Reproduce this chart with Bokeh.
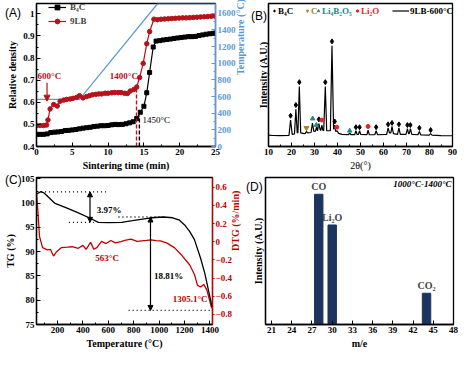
import math
from bokeh.plotting import figure
from bokeh.layouts import row, column
from bokeh.models import (Range1d, LinearAxis, Label, Arrow, NormalHead,
                          Legend, LegendItem, FixedTicker, Div)
from bokeh.embed import file_html
from bokeh.resources import INLINE

SERIF = "Liberation Serif"
SANS = "Liberation Sans"
RED = "#b5121b"
DRED = "#c00000"
BLUE = "#5b9bd5"
NAVY = "#1c355e"
TEAL = "#24898a"
OLIVE = "#a8842c"
LRED = "#e3232c"

# ---------------- (A) sintering data ----------------
time_b4c = [0, 0.5, 1.0, 1.5, 2.0, 2.5, 3.0, 3.5, 4.0, 4.5, 5.0, 5.5, 6.0, 6.5, 7.0,
            7.5, 8.0, 8.5, 9.0, 9.5, 10.0, 10.5, 11.0, 11.5, 12.0, 12.5, 13.0, 13.5,
            14.0, 14.5, 15.0, 15.4, 15.8, 16.3, 16.7, 17.2, 17.7, 18.2, 18.7, 19.2,
            19.7, 20.2, 20.7, 21.2, 21.7, 22.2, 22.7, 23.2, 23.7, 24.2, 24.7, 25.0]
dens_b4c = [0.455, 0.455, 0.455, 0.457, 0.463, 0.465, 0.466, 0.468, 0.472, 0.473,
            0.475, 0.477, 0.480, 0.483, 0.485, 0.487, 0.490, 0.492, 0.494, 0.494,
            0.495, 0.498, 0.500, 0.499, 0.500, 0.503, 0.507, 0.512, 0.527, 0.555,
            0.582, 0.643, 0.735, 0.850, 0.877, 0.879, 0.882, 0.884, 0.886, 0.889,
            0.891, 0.893, 0.895, 0.897, 0.897, 0.898, 0.902, 0.905, 0.908, 0.910,
            0.912, 0.913]
time_9lb = [0, 0.5, 1.0, 1.4, 1.6, 1.9, 2.4, 2.9, 3.3, 3.8, 4.2, 4.7, 5.1, 5.6, 6.0,
            6.5, 7.0, 7.4, 7.8, 8.3, 8.7, 9.1, 9.6, 10.0, 10.5, 10.9, 11.4, 11.8, 12.3,
            12.7, 13.1, 13.6, 14.0, 14.4, 14.9, 15.4, 15.8, 16.4, 16.9, 17.4, 17.9,
            18.4, 18.9, 19.4, 19.9, 20.4, 20.9, 21.4, 21.9, 22.4, 22.9, 23.4, 23.9,
            24.4, 24.9]
dens_9lb = [0.495, 0.495, 0.495, 0.497, 0.520, 0.570, 0.590, 0.583, 0.605, 0.610,
            0.613, 0.615, 0.618, 0.622, 0.630, 0.620, 0.626, 0.630, 0.634, 0.636,
            0.638, 0.638, 0.641, 0.641, 0.643, 0.644, 0.644, 0.644, 0.641, 0.640,
            0.651, 0.658, 0.669, 0.712, 0.776, 0.865, 0.920, 0.976, 0.974, 0.976,
            0.977, 0.978, 0.979, 0.980, 0.981, 0.982, 0.982, 0.983, 0.984, 0.985,
            0.986, 0.987, 0.988, 0.989, 0.990]
ramp_time = [0, 6.0, 16.9, 25]
ramp_temp = [565, 565, 1713, 1713]
time_ticks = [0, 5, 10, 15, 20, 25]
dens_ticks = [0.4, 0.5, 0.6, 0.7, 0.8, 0.9, 1.0]
temp_ticks = [0, 200, 400, 600, 800, 1000, 1200, 1400, 1600]
onset_time = [13.97, 14.37]       # 1400 C (9LB) and 1450 C (B4C)
onset_dens = [0.665, 0.54]

# ---------------- (B) XRD data ----------------
two_theta = [10, 12, 15, 18.9, 19.6, 20.3, 21.3, 21.9, 22.5, 22.8, 23.4, 24.0, 25.5,
             26.0, 26.5, 27.0, 28.5, 29.1, 29.7, 30.4, 30.9, 31.3, 31.9, 32.5, 32.8,
             33.2, 33.6, 34.0, 34.7, 35.3, 36.9, 37.6, 38.3, 38.7, 39.2, 39.8, 40.5,
             42, 44.8, 45.3, 45.8, 47.5, 48.0, 48.5, 49.1, 49.6, 50.1, 52.8, 53.3,
             53.8, 56.2, 56.8, 57.4, 61.4, 62.0, 62.6, 63.2, 63.7, 64.3, 66.1, 66.7,
             67.3, 69.8, 70.4, 70.9, 71.2, 71.7, 72.3, 75.0, 75.6, 76.2, 79.9, 80.5,
             81.1, 85, 90]
intensity = [8.0, 7.7, 7.6, 7.8, 18.5, 8.5, 8.8, 26.0, 9.5, 9.8, 42.0, 9.5, 9.0,
             9.2, 10.5, 9.5, 9.8, 16.3, 10.5, 10.8, 13.5, 11.0, 16.0, 11.5, 11.5,
             15.0, 11.5, 11.0, 42.0, 11.0, 11.0, 70.5, 12.0, 15.0, 10.5, 11.0, 9.2,
             8.5, 8.3, 9.5, 8.3, 8.3, 11.0, 8.5, 8.5, 11.0, 8.5, 8.3, 11.5,
             8.3, 8.2, 11.0, 8.2, 8.5, 13.0, 9.5, 9.5, 14.0, 9.0, 8.5, 13.0,
             8.5, 8.5, 12.5, 9.0, 9.0, 12.5, 8.5, 8.2, 10.5, 8.1, 8.0, 9.0,
             8.0, 7.6, 7.5]
b4c_tt = [19.6, 21.9, 23.4, 31.9, 34.7, 37.6, 38.8, 48.0, 49.6, 56.8, 62.0, 63.7,
          66.7, 70.4, 71.7, 75.6, 80.5]
b4c_int = [21.5, 29.0, 45.0, 19.0, 45.0, 73.5, 17.5, 13.5, 13.5, 13.5, 15.5, 16.5,
           15.5, 15.0, 15.0, 13.0, 11.5]
c_tt = [26.5]
c_int = [13.0]
lbo_tt = [29.2, 30.8, 45.3]
lbo_int = [19.5, 15.0, 11.0]
li2o_tt = [33.2, 39.7, 53.3]
li2o_int = [18.5, 13.5, 14.0]
tt_ticks = [10, 20, 30, 40, 50, 60, 70, 80, 90]

# ---------------- (C) TG / DTG data ----------------
tg_temp = [35, 71, 95, 181, 266, 364, 449, 522, 600, 705, 790, 937, 1034, 1107,
           1160, 1205, 1240, 1278, 1327, 1360, 1388, 1420]
tg_val = [101.9, 102.4, 102.1, 99.95, 99.1, 98.0, 97.0, 96.06, 96.0, 96.06, 96.4,
          97.0, 97.16, 97.0, 96.5, 95.4, 94.2, 92.5, 88.6, 85.5, 82.1, 78.2]
dtg_temp = [35, 46, 59, 83, 120, 144, 169, 193, 230, 280, 315, 364, 400, 425, 461,
            486, 510, 547, 583, 620, 656, 700, 730, 778, 827, 863, 900, 937, 975,
            1010, 1059, 1120, 1180, 1241, 1278, 1302, 1327, 1351, 1376, 1412]
dtg_val = [0.54, 0.333, 0.056, -0.065, -0.09, -0.083, -0.158, -0.11, -0.065,
           -0.06, -0.055, -0.072, -0.04, -0.083, -0.007, -0.083, -0.065, 0.004,
           -0.02, 0.014, -0.013, 0.0, 0.014, 0.028, 0.004, 0.01, 0.015, 0.021,
           0.012, 0.01, -0.013, -0.065, -0.152, -0.256, -0.36, -0.48, -0.498,
           -0.47, -0.533, -0.724]
tg_ticks = [75, 80, 85, 90, 95, 100, 105]
dtg_ticks = [-0.8, -0.6, -0.4, -0.2, 0.0, 0.2, 0.4, 0.6]
temp_axis_ticks = [200, 400, 600, 800, 1000, 1200, 1400]
guide_y = [102.35, 96.06, 97.16, 77.9]
guide_x0 = [71, 290, 680, 760]
guide_x1 = [595, 485, 1040, 1400]
loss_x = [456, 932]
loss_top = [102.35, 97.16]
loss_bot = [96.06, 77.9]

# ---------------- (D) mass spectrum ----------------
species = ["CO", "Li₂O", "CO₂"]
mass = [28, 30, 44]
ms_int = [0.886, 0.677, 0.2125]
me_ticks = [21, 24, 27, 30, 33, 36, 39, 42, 45, 48]

panel_letters = ["(A)", "(B)", "(C)", "(D)"]


def make_fig(w, h, xr, yr, bl, br, bt, bb):
    p = figure(width=w, height=h, x_range=xr, y_range=yr, output_backend="svg",
               toolbar_location=None, min_border_left=bl, min_border_right=br,
               min_border_top=bt, min_border_bottom=bb)
    p.xgrid.visible = False
    p.ygrid.visible = False
    p.outline_line_color = "black"
    p.outline_line_width = 1.3
    return p


HAS_ORIENT = "axis_label_orientation" in LinearAxis.properties()


def style_axis(ax, color="black", bold_label=True, tick_in=True, flip=False):
    ax.axis_label_text_font = SERIF
    ax.axis_label_text_font_style = "bold" if bold_label else "normal"
    ax.axis_label_text_font_size = "10px"
    ax.axis_label_text_color = color
    ax.major_label_text_font = SERIF
    ax.major_label_text_font_style = "bold"
    ax.major_label_text_font_size = "9px"
    ax.major_label_text_color = color
    ax.axis_line_color = color
    ax.axis_line_width = 1.3
    ax.major_tick_line_color = color
    ax.minor_tick_line_color = color
    if tick_in:
        ax.major_tick_in, ax.major_tick_out = 4, 0
        ax.minor_tick_in, ax.minor_tick_out = 2, 0
    else:
        ax.major_tick_in, ax.major_tick_out = 0, 2
        ax.minor_tick_in, ax.minor_tick_out = 0, 1
    ax.major_label_standoff = 2
    ax.axis_label_standoff = 2
    if flip and HAS_ORIENT:
        ax.axis_label_orientation = math.pi / 2


def txt(p, x, y, s, color="black", size="9px", bold=True, italic=False,
        align="left", baseline="middle", font=SERIF):
    style = "bold" if bold else "normal"
    if italic:
        style = "bold italic" if bold else "italic"
    p.add_layout(Label(x=x, y=y, text=s, text_color=color, text_font=font,
                       text_font_size=size, text_font_style=style,
                       text_align=align, text_baseline=baseline))


def minors(ticks, n=2):
    step = (ticks[1] - ticks[0]) / n
    out = []
    for t in ticks[:-1]:
        for k in range(1, n):
            out.append(t + k * step)
    return out


# ===================== (A) =====================
pA = make_fig(254, 173, Range1d(0, 25), Range1d(0.4, 1.047), 36, 37, 3, 25)
pA.extra_y_ranges = {"temp": Range1d(0, 1716)}
pA.xaxis.ticker = FixedTicker(ticks=time_ticks, minor_ticks=minors(time_ticks))
pA.yaxis.ticker = FixedTicker(ticks=dens_ticks, minor_ticks=minors(dens_ticks))
pA.xaxis.axis_label = "Sintering time (min)"
pA.yaxis.axis_label = "Relative density"
style_axis(pA.xaxis[0])
style_axis(pA.yaxis[0])
axA_r = LinearAxis(y_range_name="temp", axis_label="Temperature (°C)",
                   ticker=FixedTicker(ticks=temp_ticks, minor_ticks=minors(temp_ticks)))
style_axis(axA_r, color=BLUE, flip=True)
pA.add_layout(axA_r, "right")

pA.line(ramp_time, ramp_temp, y_range_name="temp", line_color=BLUE, line_width=1.2)
lb = pA.line(time_b4c, dens_b4c, line_color="black", line_width=1.2)
sb = pA.scatter(time_b4c, dens_b4c, marker="square", size=4, color="black")
lr = pA.line(time_9lb, dens_9lb, line_color=RED, line_width=1.2)
sr = pA.scatter(time_9lb, dens_9lb, marker="circle", size=4.5, color=RED)
pA.segment(x0=onset_time, y0=[0.4, 0.4], x1=onset_time, y1=onset_dens,
           line_color=[RED, "black"], line_dash="4 2", line_width=1.4)
pA.add_layout(Arrow(end=NormalHead(size=6, fill_color=RED, line_color=RED),
                    x_start=1.47, y_start=0.688, x_end=1.47, y_end=0.605,
                    line_color=RED, line_width=1.2))
txt(pA, 1.8, 0.719, "600°C", color=RED, align="center")
txt(pA, 12.2, 0.719, "1400°C", color=RED, align="center")
txt(pA, 14.8, 0.52, "1450°C", bold=False)
legA = Legend(items=[LegendItem(label="B₄C", renderers=[lb, sb]),
                     LegendItem(label="9LB", renderers=[lr, sr])],
              location=(12, 119), padding=0, margin=0, spacing=2,
              glyph_width=18, glyph_height=12, label_height=12,
              label_standoff=4, border_line_color=None, background_fill_alpha=0,
              label_text_font=SERIF, label_text_font_style="bold",
              label_text_font_size="9px")
pA.add_layout(legA)

# ===================== (B) =====================
pB = make_fig(204, 173, Range1d(10, 90), Range1d(0, 100), 10, 6, 3, 23)
pB.xaxis.ticker = FixedTicker(ticks=tt_ticks, minor_ticks=minors(tt_ticks))
pB.yaxis.ticker = FixedTicker(ticks=[])
pB.xaxis.axis_label = "2θ(°)"
pB.yaxis.axis_label = "Intensity (A.U.)"
style_axis(pB.xaxis[0], bold_label=False)
style_axis(pB.yaxis[0])
pB.yaxis.axis_label_standoff = 0
xrd = pB.line(two_theta, intensity, line_color="black", line_width=1.2)
m1 = pB.scatter(b4c_tt, b4c_int, marker="diamond", size=5, color="black")
m2 = pB.scatter(c_tt, c_int, marker="inverted_triangle", size=5, color=OLIVE)
m3 = pB.scatter(lbo_tt, lbo_int, marker="triangle", size=4.5, color=TEAL)
m4 = pB.scatter(li2o_tt, li2o_int, marker="circle", size=4, color=LRED)


def small_legend(p, label, rends, x, y, color, gw=6):
    lg = Legend(items=[LegendItem(label=label, renderers=rends)], location=(x, y),
                padding=0, margin=0, glyph_width=gw, glyph_height=11,
                label_height=11, label_standoff=1, border_line_color=None,
                background_fill_alpha=0, label_text_font=SERIF,
                label_text_font_style="bold", label_text_font_size="9px",
                label_text_color=color)
    p.add_layout(lg)


small_legend(pB, "B₄C", [m1], 3, 130, "black")
small_legend(pB, "C", [m2], 36, 130, OLIVE)
small_legend(pB, "Li₄B₂O₅", [m3], 47, 130, TEAL)
small_legend(pB, "Li₂O", [m4], 86, 130, LRED)
small_legend(pB, "9LB-600°C", [xrd], 124, 130, "black", gw=17)

# ===================== (C) =====================
pC = make_fig(249, 178, Range1d(35, 1420), Range1d(75, 105.3), 36, 30, 3, 26)
pC.extra_y_ranges = {"dtg": Range1d(-0.911, 0.707)}
pC.xaxis.ticker = FixedTicker(ticks=temp_axis_ticks,
                              minor_ticks=minors(temp_axis_ticks) + [100])
pC.yaxis.ticker = FixedTicker(ticks=tg_ticks, minor_ticks=minors(tg_ticks))
pC.xaxis.axis_label = "Temperature (°C)"
pC.yaxis.axis_label = "TG (%)"
style_axis(pC.xaxis[0])
style_axis(pC.yaxis[0])
axC_r = LinearAxis(y_range_name="dtg", axis_label="DTG (%/min)",
                   ticker=FixedTicker(ticks=dtg_ticks))
style_axis(axC_r, color=DRED, tick_in=False, flip=True)
axC_r.major_label_standoff = 1
axC_r.axis_label_standoff = 1
pC.add_layout(axC_r, "right")
pC.line(dtg_temp, dtg_val, y_range_name="dtg", line_color=DRED, line_width=1.3)
pC.line(tg_temp, tg_val, line_color="black", line_width=1.3)
pC.segment(x0=guide_x0, y0=guide_y, x1=guide_x1, y1=guide_y, line_color="black",
           line_dash="1 3", line_width=1.3)
for xa, ya, yb in zip(loss_x, loss_top, loss_bot):
    pC.add_layout(Arrow(start=NormalHead(size=5, fill_color="black"),
                        end=NormalHead(size=5, fill_color="black"),
                        x_start=xa, y_start=ya, x_end=xa, y_end=yb,
                        line_color="black", line_width=1.2))
txt(pC, 510, 98.66, "3.97%")
txt(pC, 960, 85.05, "18.81%")
txt(pC, 498, 88.75, "563°C", color=DRED)
txt(pC, 1107, 80.2, "1305.1°C", color=DRED)

# ===================== (D) =====================
pD = make_fig(209, 178, Range1d(20.1, 48), Range1d(0, 1), 16, 5, 4, 21)
pD.xaxis.ticker = FixedTicker(ticks=me_ticks, minor_ticks=[])
pD.yaxis.ticker = FixedTicker(ticks=[])
pD.xaxis.axis_label = "m/e"
pD.yaxis.axis_label = "Intensity (A.U.)"
style_axis(pD.xaxis[0])
style_axis(pD.yaxis[0])
pD.vbar(x=mass, top=ms_int, width=1.25, fill_color=NAVY, line_color=NAVY)
for s, xm, ym in zip(species, mass, ms_int):
    pD.add_layout(Label(x=xm, y=ym, y_offset=2, text=s, text_font=SERIF,
                        text_font_style="bold", text_font_size="10px",
                        text_align="center", text_baseline="bottom"))
txt(pD, 47.7, 0.955, "1000°C-1400°C", italic=True, align="right")

# panel letters, overlaid in the page (absolute positions inside the layout)
letter_pos = [(0, 1), (246, 4), (0, 168), (241, 175)]
spans = "".join(
    f'<span style="position:absolute;left:{lx}px;top:{ly}px;'
    f'font-family:{SANS};font-size:12px;line-height:14px;white-space:nowrap;'
    f'color:black">{t}</span>'
    for t, (lx, ly) in zip(panel_letters, letter_pos))
letters = Div(text=spans, width=1, height=1,
              styles={"position": "absolute", "left": "0px", "top": "0px",
                      "overflow": "visible", "z-index": "10"})

layout = column(row(pA, pB), row(pC, pD), letters)
open("out.html", "w").write(file_html(layout, INLINE))
